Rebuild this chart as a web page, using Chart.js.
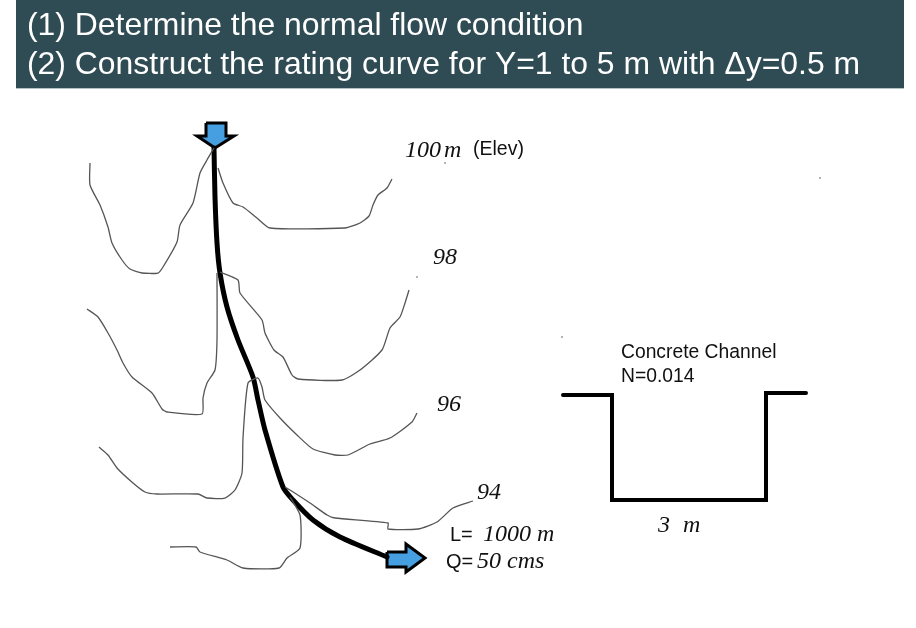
<!DOCTYPE html>
<html>
<head>
<meta charset="utf-8">
<title>Normal flow and rating curve</title>
<style>
  html, body { margin: 0; padding: 0; background: #fff; }
  canvas { display: block; }
</style>
<script src="https://cdn.jsdelivr.net/npm/chart.js@4/dist/chart.umd.js"></script>
</head>
<body>
<canvas id="sketch" width="916" height="628"></canvas>
<script>
// Values, in picture units
const contour100Left = [[90,163],[90,185],[100,205],[108,227],[112,243],[122,260],[130,269],[142,273],[158,273],[163,267],[177,242],[180,225],[193,203],[200,173],[207,160],[214,148]];
const contour100Right = [[218,168],[223,183],[233,203],[243,207],[257,218],[270,228],[345,228],[360,223],[369,216],[373,205],[378,195],[387,188],[392,179]];
const contour98Left = [[87,309],[98,317],[108,333],[117,350],[123,363],[132,377],[152,393],[162,409],[167,412],[202,414],[203,398],[207,383],[215,370],[217,340],[217,273]];
const contour98Right = [[220,272],[238,280],[240,293],[262,320],[265,333],[274,350],[283,357],[292,375],[298,379],[342,380],[360,370],[382,350],[390,328],[400,317],[405,303],[409,290]];
const contour96Left = [[99,447],[108,455],[117,468],[133,483],[145,492],[157,494],[198,494],[207,498],[225,498],[235,490],[242,473],[243,438],[248,383],[258,378],[262,387],[265,400],[280,418],[297,435],[313,449],[335,455],[348,455],[370,444],[390,438],[412,422],[417,413]];
const contour94Left = [[170,547],[196,547],[200,552],[227,560],[243,568],[279,568],[287,558],[300,548],[300,515],[290,497]];
const contour94Right = [[285,487],[290,490],[310,503],[327,515],[335,518],[388,523],[388,529],[418,529],[437,522],[453,508],[473,501]];
const riverLine = [[214,148],[215,197],[217,243],[220,273],[227,307],[238,340],[253,377],[258,400],[265,430],[283,487],[293,500],[313,520],[340,537],[387,557]];
const channelLine = [[563,395],[612,395],[612,500],[766,500],[766,393],[806,393]];
const inletArrow = [[206,123],[226,123],[226,136],[234,136],[215,148],[197,136],[206,136],[206,123]];
const outletArrow = [[387,552],[406,552],[406,544],[425,558],[406,572],[406,567],[387,567],[387,552]];
const specks = [[820,178],[562,337],[417,277],[445,163]];

const headerLines = ["(1) Determine the normal flow condition", "(2) Construct the rating curve for Y=1 to 5 m with Δy=0.5 m"];
const headerBaselines = [35, 74];
const serifTexts = ["100", "m", "98", "96", "94", "1000 m", "50 cms", "3", "m"];
const serifX = [405, 444, 433, 437, 477, 483, 477, 658, 683];
const serifY = [157, 157, 264, 411, 499, 541, 568, 532, 532];
const sansTexts = ["(Elev)", "L=", "Q=", "Concrete Channel", "N=0.014"];
const sansX = [473, 450, 446, 621, 621];
const sansY = [155, 541, 568, 358, 382];
const sansSizes = [19.5, 20, 20, 19.3, 19.3];

function toPoints(pairs) {
  return pairs.map(p => ({ x: p[0], y: p[1] }));
}

function contour(pairs) {
  return { data: toPoints(pairs), showLine: true, borderColor: "#555", borderWidth: 1.3, pointRadius: 0, tension: 0.2 };
}

function arrow(pairs) {
  return { data: toPoints(pairs), showLine: true, borderColor: "#000", borderWidth: 3, pointRadius: 0, tension: 0, polygonFill: "#459fe0" };
}

// Fills arrow polygons and draws the header band and labels
const sketchPlugin = {
  id: "sketch",
  beforeDraw(chart) {
    const ctx = chart.ctx;
    ctx.save();
    ctx.fillStyle = "#fff";
    ctx.fillRect(0, 0, chart.width, chart.height);
    ctx.fillStyle = "#2f4b53";
    ctx.fillRect(16, 0, 888, 88);
    ctx.fillStyle = "#b4c2c6";
    ctx.fillRect(16, 88, 888, 1);
    ctx.restore();
  },
  beforeDatasetDraw(chart, args) {
    const fill = chart.data.datasets[args.index].polygonFill;
    if (!fill) return;
    const ctx = chart.ctx;
    const pts = args.meta.data;
    ctx.save();
    ctx.beginPath();
    pts.forEach((p, i) => i ? ctx.lineTo(p.x, p.y) : ctx.moveTo(p.x, p.y));
    ctx.closePath();
    ctx.fillStyle = fill;
    ctx.fill();
    ctx.restore();
  },
  afterDraw(chart) {
    const ctx = chart.ctx;
    const xs = chart.scales.x, ys = chart.scales.y;
    ctx.save();
    ctx.textBaseline = "alphabetic";
    ctx.fillStyle = "#fff";
    ctx.font = '31.9px "Liberation Sans"';
    headerLines.forEach((t, i) => ctx.fillText(t, xs.getPixelForValue(27), ys.getPixelForValue(headerBaselines[i])));
    ctx.fillStyle = "#111";
    ctx.font = 'italic 24px "Liberation Serif"';
    serifTexts.forEach((t, i) => ctx.fillText(t, xs.getPixelForValue(serifX[i]), ys.getPixelForValue(serifY[i])));
    sansTexts.forEach((t, i) => {
      ctx.font = sansSizes[i] + 'px "Liberation Sans"';
      ctx.fillText(t, xs.getPixelForValue(sansX[i]), ys.getPixelForValue(sansY[i]));
    });
    ctx.restore();
  }
};

new Chart(document.getElementById("sketch"), {
  type: "scatter",
  data: {
    datasets: [
      contour(contour100Left),
      contour(contour100Right),
      contour(contour98Left),
      contour(contour98Right),
      contour(contour96Left),
      contour(contour94Left),
      contour(contour94Right),
      { data: toPoints(riverLine), showLine: true, borderColor: "#000", borderWidth: 5, pointRadius: 0, tension: 0.25, borderCapStyle: "round" },
      { data: toPoints(channelLine), showLine: true, borderColor: "#000", borderWidth: 4, pointRadius: 0, tension: 0, borderCapStyle: "round" },
      arrow(inletArrow),
      arrow(outletArrow),
      { data: toPoints(specks), pointRadius: 0.8, pointBackgroundColor: "#555", pointBorderWidth: 0 }
    ]
  },
  options: {
    responsive: false,
    animation: false,
    layout: { padding: 0, autoPadding: false },
    plugins: { legend: { display: false }, tooltip: { enabled: false } },
    scales: {
      x: { type: "linear", min: 0, max: 916, display: false },
      y: { type: "linear", min: 0, max: 628, reverse: true, display: false }
    }
  },
  plugins: [sketchPlugin]
});
</script>
</body>
</html>
